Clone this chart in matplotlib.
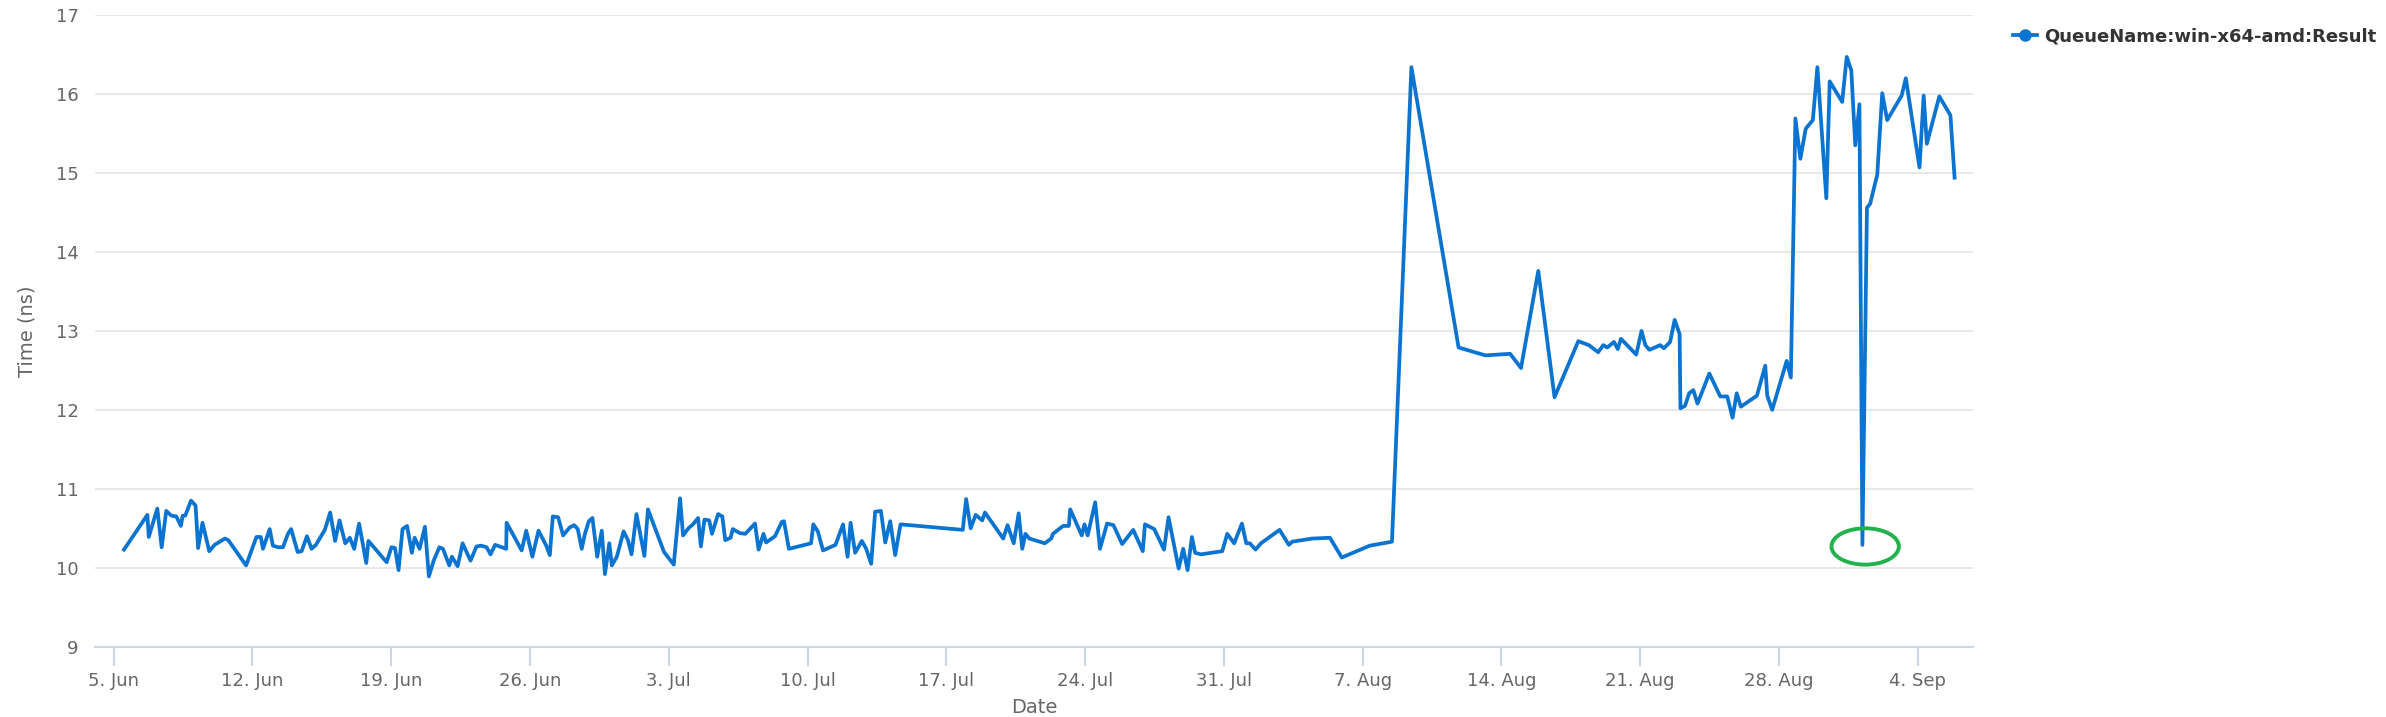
import matplotlib
matplotlib.use("Agg")
import matplotlib.pyplot as plt
import matplotlib.dates as mdates
from matplotlib.patches import Ellipse
from matplotlib.lines import Line2D
import numpy as np
import pandas as pd

# days since 5 Jun
days = [0.52,1.70,1.77,2.20,2.42,2.65,2.91,3.16,3.39,3.48,3.61,3.90,4.13,4.26,4.48,4.82,5.09,5.61,5.78,6.68,
7.20,7.42,7.53,7.87,8.03,8.30,8.54,8.79,8.95,9.28,9.48,9.75,9.98,10.20,10.65,10.92,11.17,11.39,11.68,11.91,
12.13,12.38,12.74,12.85,13.77,14.01,14.19,14.37,14.57,14.80,15.04,15.18,15.43,15.70,15.90,16.14,16.43,16.61,16.93,17.06,
17.35,17.60,18.00,18.30,18.54,18.81,19.01,19.24,19.80,19.82,20.58,20.81,21.12,21.43,21.82,22.00,22.15,22.42,22.67,23.00,
23.23,23.41,23.61,23.77,23.97,24.15,24.39,24.62,24.78,25.00,25.13,25.38,25.72,25.94,26.12,26.37,26.77,26.95,27.76,28.25,
28.57,28.72,28.99,29.22,29.48,29.62,29.80,30.04,30.18,30.49,30.70,30.85,31.12,31.23,31.57,31.86,32.35,32.53,32.78,32.91,
33.36,33.70,33.81,34.06,35.18,35.29,35.52,35.78,36.41,36.79,37.02,37.17,37.40,37.74,37.96,38.21,38.41,38.70,38.92,39.17,
39.42,39.69,42.83,43.00,43.23,43.48,43.81,43.95,44.87,45.09,45.40,45.65,45.83,45.99,46.19,46.97,47.29,47.38,47.89,48.18,
48.25,48.83,48.97,49.13,49.51,49.75,50.11,50.43,50.87,51.43,51.91,52.02,52.49,52.98,53.21,53.72,53.95,54.17,54.39,54.55,
54.84,55.92,56.17,56.52,56.91,57.13,57.31,57.60,57.87,58.81,59.28,59.44,60.45,61.35,61.95,63.36,64.48,
65.46,67.84,68.25,69.19,70.44,70.99,71.86,72.68,73.88,74.41,74.88,75.14,75.34,75.68,75.87,76.03,76.80,77.07,77.26,
77.47,78.01,78.20,78.51,78.74,78.99,79.03,79.26,79.47,79.68,79.89,80.49,81.04,81.39,81.66,81.87,82.08,82.89,83.31,83.41,
83.66,84.39,84.60,84.83,85.08,85.35,85.71,85.94,86.39,86.56,87.19,87.42,87.65,87.85,88.06,88.21,88.44,88.60,88.96,89.21,
89.46,90.19,90.40,91.09,91.30,91.46,92.09,92.65,92.86]
values = [10.23,10.67,10.39,10.75,10.26,10.72,10.66,10.65,10.53,10.66,10.66,10.85,10.79,10.25,10.57,10.21,10.29,10.37,10.35,10.03,
10.39,10.39,10.24,10.49,10.28,10.26,10.26,10.43,10.49,10.20,10.21,10.40,10.24,10.29,10.48,10.70,10.34,10.60,10.31,10.38,
10.24,10.56,10.06,10.34,10.07,10.26,10.25,9.97,10.49,10.53,10.19,10.38,10.24,10.52,9.89,10.09,10.26,10.24,10.03,10.14,
10.02,10.31,10.09,10.27,10.28,10.26,10.17,10.29,10.24,10.57,10.22,10.47,10.14,10.47,10.28,10.16,10.65,10.64,10.41,10.51,
10.54,10.49,10.24,10.43,10.59,10.63,10.14,10.47,9.92,10.31,10.03,10.14,10.46,10.35,10.17,10.68,10.15,10.74,10.20,10.04,
10.88,10.41,10.50,10.55,10.63,10.27,10.61,10.60,10.43,10.68,10.65,10.35,10.38,10.49,10.44,10.43,10.56,10.23,10.43,10.32,
10.40,10.58,10.59,10.24,10.31,10.55,10.46,10.22,10.29,10.55,10.14,10.57,10.19,10.34,10.24,10.05,10.71,10.72,10.32,10.59,
10.16,10.55,10.48,10.87,10.50,10.67,10.60,10.70,10.37,10.54,10.31,10.69,10.24,10.43,10.37,10.31,10.37,10.43,10.53,10.53,
10.74,10.41,10.55,10.41,10.83,10.24,10.56,10.54,10.30,10.48,10.21,10.55,10.49,10.23,10.64,9.99,10.24,9.97,10.39,10.19,
10.17,10.21,10.43,10.31,10.56,10.31,10.31,10.23,10.31,10.48,10.29,10.33,10.37,10.38,10.13,10.28,10.33,
16.34,12.79,12.76,12.69,12.71,12.53,13.76,12.16,12.87,12.82,12.73,12.82,12.79,12.86,12.77,12.90,12.70,13.00,12.82,
12.76,12.82,12.78,12.86,13.14,12.96,12.02,12.05,12.21,12.25,12.08,12.46,12.17,12.17,11.90,12.21,12.04,12.18,12.56,12.18,
12.00,12.62,12.41,15.69,15.18,15.56,15.67,16.34,14.68,16.16,15.90,16.47,16.30,15.35,15.87,10.29,14.56,14.61,14.98,16.01,
15.67,15.98,16.20,15.07,15.98,15.37,15.97,15.73,14.94]

start = pd.Timestamp("2023-06-05")
dates = [start + pd.Timedelta(days=d) for d in days]
tick_dates = pd.date_range("2023-06-05", "2023-09-04", freq="7D")
series_name = "QueueName:win-x64-amd:Result"

fig = plt.figure(figsize=(23.86, 7.17), dpi=100)
ax = fig.add_axes([0.040, 0.098, 0.787, 0.881])
color = "#0b74d1"
ax.plot(dates, values, color=color, lw=2.7, zorder=3)

ax.set_ylim(9, 17)
ax.set_yticks(range(9, 18))
ax.set_xlim(start - pd.Timedelta(days=0.92), start + pd.Timedelta(days=93.8))
ax.set_xticks(tick_dates)
ax.set_xticklabels([f"{d.day}. {d.strftime('%b')}" for d in tick_dates])
ax.grid(axis="y", color="#e6e6e6", lw=1.3)
ax.set_axisbelow(True)
for s in ["top", "right", "left"]:
    ax.spines[s].set_visible(False)
ax.spines["bottom"].set_color("#ccd6eb")
ax.spines["bottom"].set_linewidth(1.5)
ax.tick_params(axis="y", length=0, labelsize=13, colors="#666666", pad=12)
ax.tick_params(axis="x", length=14, width=1.5, color="#ccd6eb", labelsize=13, labelcolor="#666666", pad=4)
ax.set_ylabel("Time (ns)", fontsize=14, color="#666666", labelpad=14)
ax.set_xlabel("Date", fontsize=14, color="#666666", labelpad=6)

ell = Ellipse((mdates.date2num(start + pd.Timedelta(days=88.35)), 10.27), width=3.4, height=0.46,
              fill=False, edgecolor="#22b14c", lw=2.8, zorder=4)
ax.add_patch(ell)

handle = Line2D([], [], color=color, lw=2.7, marker="o", markersize=8)
leg = fig.legend([handle], [series_name], loc="upper left", bbox_to_anchor=(0.837, 0.985),
                 frameon=False, prop={"weight": "bold", "size": 13}, handlelength=1.3, handletextpad=0.4)
for t in leg.get_texts():
    t.set_color("#333333")

fig.savefig("out.png", dpi=100)
